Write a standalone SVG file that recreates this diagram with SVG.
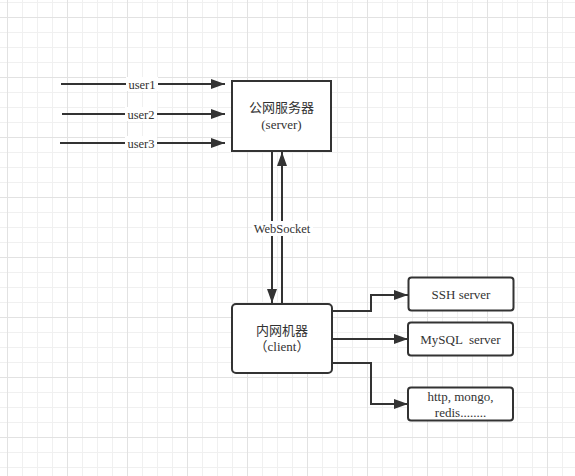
<svg xmlns="http://www.w3.org/2000/svg" width="575" height="476" viewBox="0 0 575 476">
<style>
.box{fill:#fff;stroke:#333;stroke-width:2}
.ln{fill:none;stroke:#333;stroke-width:2}
.t{font-family:"Liberation Serif","Noto Sans CJK SC",serif;font-size:13px;fill:#333;text-anchor:middle}
.c{font-family:"Noto Sans CJK SC","Liberation Sans",sans-serif;font-size:13px;fill:#333;text-anchor:middle}
.lbl{font-family:"Liberation Serif",serif;font-size:12.5px;fill:#333;text-anchor:middle}
</style>
<defs>
<pattern id="grid" x="7" y="17" width="60" height="60" patternUnits="userSpaceOnUse">
<path d="M15.5 0V60M30.5 0V60M45.5 0V60M0 15.5H60M0 30.5H60M0 45.5H60" stroke="#f0f0f0" stroke-width="1" fill="none"/>
<path d="M0.5 0V60M0 0.5H60" stroke="#e2e2e2" stroke-width="1" fill="none"/>
</pattern>
<marker id="ah" viewBox="0 0 14 10" refX="14" refY="5" markerWidth="14" markerHeight="10" orient="auto" markerUnits="userSpaceOnUse">
<path d="M0 0L14 5L0 10z" fill="#333"/>
</marker>
</defs>
<rect width="575" height="476" fill="#fff"/>
<rect width="575" height="476" fill="url(#grid)"/>
<g id="connectors">
<path class="ln" d="M61 84H225" marker-end="url(#ah)"/>
<path class="ln" d="M62 114H225" marker-end="url(#ah)"/>
<path class="ln" d="M60 143H225" marker-end="url(#ah)"/>
<path class="ln" d="M272 152V303" marker-end="url(#ah)"/>
<path class="ln" d="M282 303V152" marker-end="url(#ah)"/>
<path class="ln" d="M332 311H371V295H408" marker-end="url(#ah)"/>
<path class="ln" d="M332 339H408" marker-end="url(#ah)"/>
<path class="ln" d="M332 363H371V404H408" marker-end="url(#ah)"/>
<rect x="126" y="77" width="32" height="14" fill="#fff"/>
<rect x="125" y="107" width="32" height="14" fill="#fff"/>
<rect x="125" y="136" width="32" height="14" fill="#fff"/>
<rect x="252" y="221" width="61" height="15" fill="#fff"/>
<text class="lbl" x="142" y="88.5">user1</text>
<text class="lbl" x="141" y="118.5">user2</text>
<text class="lbl" x="141" y="147.5">user3</text>
<text class="lbl" x="282" y="233">WebSocket</text>
</g>
<g id="server">
<rect class="box" x="232" y="81" width="99" height="70"/>
<text class="c" x="281.5" y="112">公网服务器</text>
<text class="t" x="281.5" y="129">(server)</text>
</g>
<g id="client">
<rect class="box" x="232" y="304" width="100" height="69" rx="4"/>
<text class="c" x="282" y="335">内网机器</text>
<text class="t" x="282" y="351">（client）</text>
</g>
<g id="ssh">
<rect class="box" x="408.5" y="277.5" width="105" height="33" rx="3"/>
<text class="t" x="461" y="298.5">SSH server</text>
</g>
<g id="mysql">
<rect class="box" x="408" y="322.5" width="105" height="33" rx="3"/>
<text class="t" x="460.5" y="343.5" xml:space="preserve">MySQL  server</text>
</g>
<g id="other">
<rect class="box" x="408" y="387.5" width="105" height="33" rx="3"/>
<text class="t" x="460.5" y="400.5">http, mongo,</text>
<text class="t" x="460.5" y="416.5">redis........</text>
</g>
</svg>
